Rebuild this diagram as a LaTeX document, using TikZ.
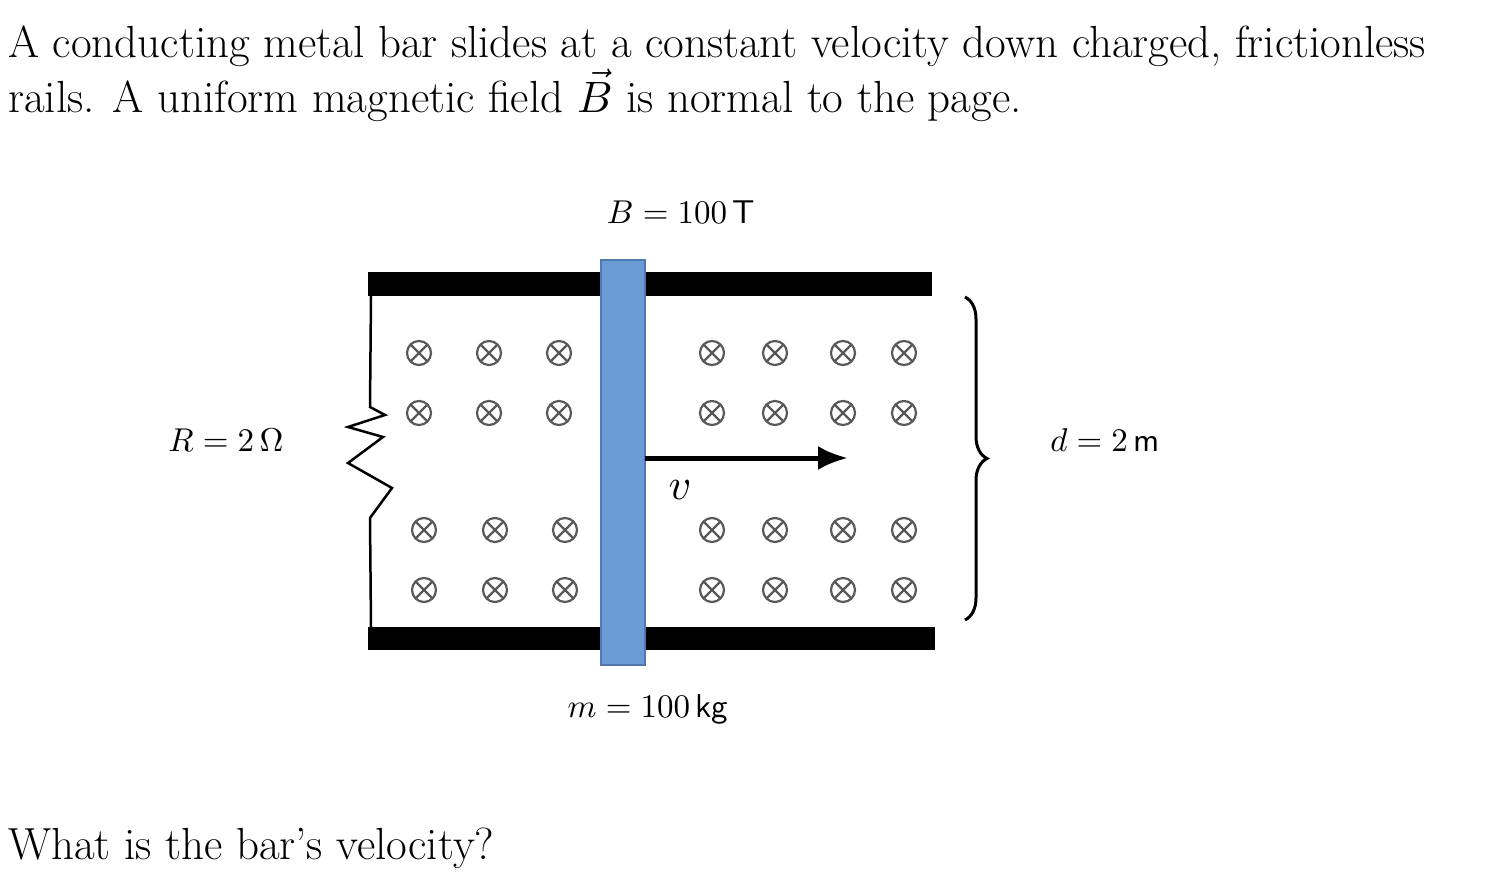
\documentclass[tikz,border=0pt]{standalone}
\usepackage{graphicx}
\usetikzlibrary{decorations.pathreplacing,arrows.meta}
\begin{document}
\begin{tikzpicture}[x=1pt,y=-1pt,
  cross/.style={draw=black!65,line width=2.2pt,circle,minimum size=24pt,inner sep=0pt,
    path picture={\draw[black!65,line width=2.2pt] ([shift={(3.5pt,-3.5pt)}]path picture bounding box.north west) -- ([shift={(-3.5pt,3.5pt)}]path picture bounding box.south east);
    \draw[black!65,line width=2.2pt] ([shift={(-3.5pt,-3.5pt)}]path picture bounding box.north east) -- ([shift={(3.5pt,3.5pt)}]path picture bounding box.south west);}},
  lab/.style={inner sep=0pt},
  body/.style={inner sep=0pt,anchor=north west,align=left,font=\fontsize{45}{55}\selectfont}]
\useasboundingbox (0,0) rectangle (1494,882);
\node[body] (t) at (8,25) {A conducting metal bar slides at a constant velocity down charged, frictionless\\rails. A uniform magnetic field \scalebox{4.4}{\fontsize{10}{12}\selectfont$\vec B$} is normal to the page.};
\node[body] (q) at (8,828) {What is the bar's velocity?};
% rails
\fill (368,272) rectangle (932,296);
\fill (368,627) rectangle (935,650);
% left wire with resistor
\coordinate (w1) at (371,296);
\coordinate (w2) at (371,627);
\draw[line width=2.5pt] (w1) -- (370,407) -- (385,415) -- (348,427) -- (383,437) -- (348,463) -- (392,488) -- (370,518) -- (w2);
% symbols
\foreach \x in {419,489,559}{\foreach \y in {353,413}{\node[cross] at (\x,\y) {};}}
\foreach \x in {424,495,565}{\foreach \y in {530,590}{\node[cross] at (\x,\y) {};}}
\foreach \x in {712,775,843,904}{\foreach \y in {353,413,530,590}{\node[cross] at (\x,\y) {};}}
% bar
\filldraw[fill={rgb,255:red,106;green,155;blue,212},draw={rgb,255:red,80;green,120;blue,175},line width=1.5pt] (601,260) rectangle (645,665);
\coordinate (a0) at (645,458);
\coordinate (a1) at (848,458);
\draw[line width=5pt,-{Latex[length=30pt,width=24pt]}] (a0) -- (a1);
\node[lab] (v) at (680,490) {\scalebox{4.4}{$v$}};
% brace
\draw[line width=3pt,decorate,decoration={brace,amplitude=22pt}] (965,297) -- (965,620);
\node[lab] (B) at (681,212) {\scalebox{3.3}{$B = 100\,\textsf{T}$}};
\node[lab] (m) at (648,709) {\scalebox{3.3}{$m = 100\,\textsf{kg}$}};
\node[lab] (R) at (226,440) {\scalebox{3.3}{$R = 2\,\Omega$}};
\node[lab] (d) at (1105,440) {\scalebox{3.3}{$d = 2\,\textsf{m}$}};
\end{tikzpicture}
\end{document}
